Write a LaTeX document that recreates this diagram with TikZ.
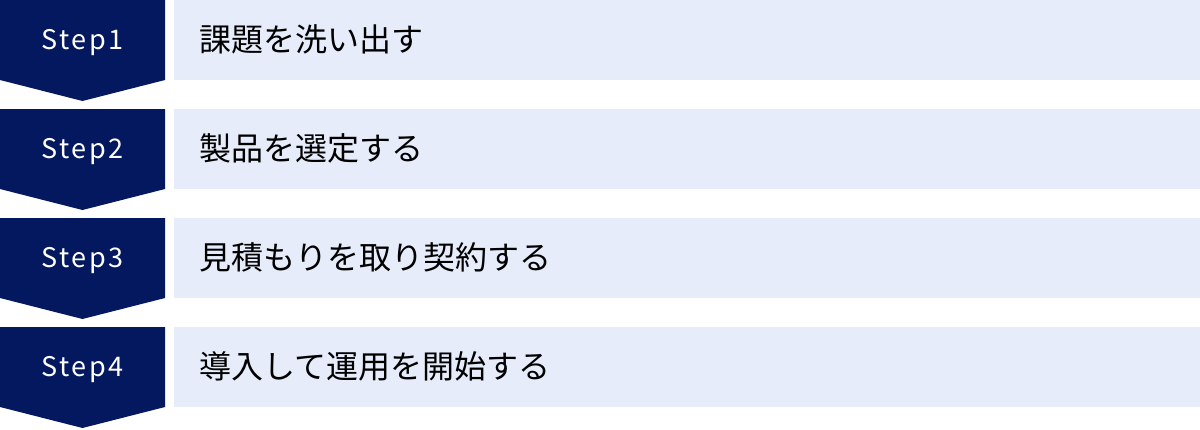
\documentclass[tikz,border=0pt]{standalone}
\usepackage{fontspec}
\setmainfont{Noto Sans CJK JP}
\newfontfamily\stepfont{Noto Sans CJK JP}[LetterSpace=9]
\definecolor{navy}{RGB}{4,24,96}
\definecolor{pale}{RGB}{230,236,250}
\begin{document}
\begin{tikzpicture}[x=1pt,y=-1pt,
  stepshape/.style={fill=navy},
  bandbox/.style={fill=pale},
  steplabel/.style={text=white,font=\stepfont\fontsize{27}{30}\selectfont,inner sep=0pt,anchor=base},
  tasklabel/.style={text=black,font=\fontsize{32}{35}\selectfont,anchor=west,inner sep=0pt}]
\useasboundingbox (0,0) rectangle (1200,429);
\foreach \i/\t in {0/課題を洗い出す,1/製品を選定する,2/見積もりを取り契約する,3/導入して運用を開始する}{
  \pgfmathsetmacro{\yy}{\i*109}
  \fill[stepshape] (0,\yy) -- (165,\yy) -- (165,\yy+80) -- (82.5,\yy+101) -- (0,\yy+80) -- cycle;
  \fill[bandbox] (174,\yy) rectangle (1200,\yy+80);
  \pgfmathtruncatemacro{\n}{\i+1}
  \node[steplabel] (step\n) at (82.5,\yy+49.5) {Step\n};
  \node[tasklabel] (task\n) at (199,\yy+39.5) {\t};
}
\end{tikzpicture}
\end{document}
